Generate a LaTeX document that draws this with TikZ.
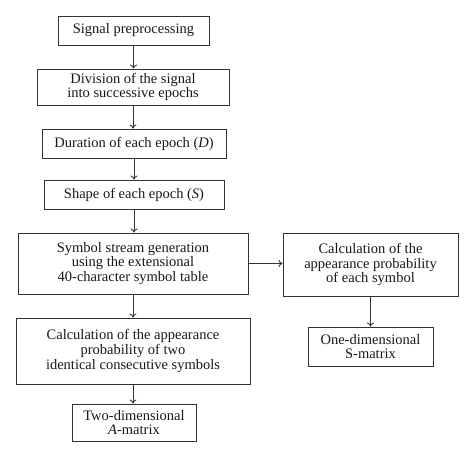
\documentclass[tikz,border=0pt]{standalone}
\usepackage{fontspec}
\setmainfont{Liberation Serif}
\usetikzlibrary{arrows.meta}
\begin{document}
\begin{tikzpicture}[x=1pt,y=-1pt,
  box/.style={draw=black!80, line width=0.9pt, rectangle, align=center, inner sep=0pt,
    font=\fontsize{14.5}{14.8}\selectfont, text=black!90},
  arr/.style={draw=black!80, line width=0.9pt, -{To[length=4pt,width=7pt]}}]
\useasboundingbox (0,0) rectangle (474,457);
\fill[white] (0,0) rectangle (474,457);
\node[box, minimum width=151pt, minimum height=29pt] (b1) at (133.5,30.5) {Signal preprocessing};
\node[box, minimum width=192pt, minimum height=36pt] (b2) at (133,87) {Division of the signal\\into successive epochs};
\node[box, minimum width=184pt, minimum height=29pt] (b3) at (134,143.5) {Duration of each epoch (\textit{D})};
\node[box, minimum width=180pt, minimum height=29pt] (b4) at (134,194.5) {Shape of each epoch (\textit{S})};
\node[box, minimum width=230pt, minimum height=61pt] (b5) at (133,263.5) {Symbol stream generation\\using the extensional\\40-character symbol table};
\node[box, minimum width=234pt, minimum height=66pt] (b6) at (133,351) {Calculation of the appearance\\probability of two\\identical consecutive symbols};
\node[box, minimum width=124pt, minimum height=37pt] (b7) at (134,422.5) {Two-dimensional\\\textit{A}-matrix};
\node[box, minimum width=175pt, minimum height=63pt] (b8) at (370.5,264.5) {Calculation of the\\appearance probability\\of each symbol};
\node[box, minimum width=125pt, minimum height=39pt] (b9) at (370.5,346.5) {One-dimensional\\S-matrix};
\draw[arr] (b1.south) -- (b1.south |- b2.north);
\draw[arr] (b2.south) -- (b2.south |- b3.north);
\draw[arr] (b3.south) -- (b3.south |- b4.north);
\draw[arr] (b4.south) -- (b4.south |- b5.north);
\draw[arr] (b5.south) -- (b5.south |- b6.north);
\draw[arr] (b6.south) -- (b6.south |- b7.north);
\draw[arr] (b5.east) -- (b5.east -| b8.west);
\draw[arr] (b8.south) -- (b9.north);
\end{tikzpicture}
\end{document}
